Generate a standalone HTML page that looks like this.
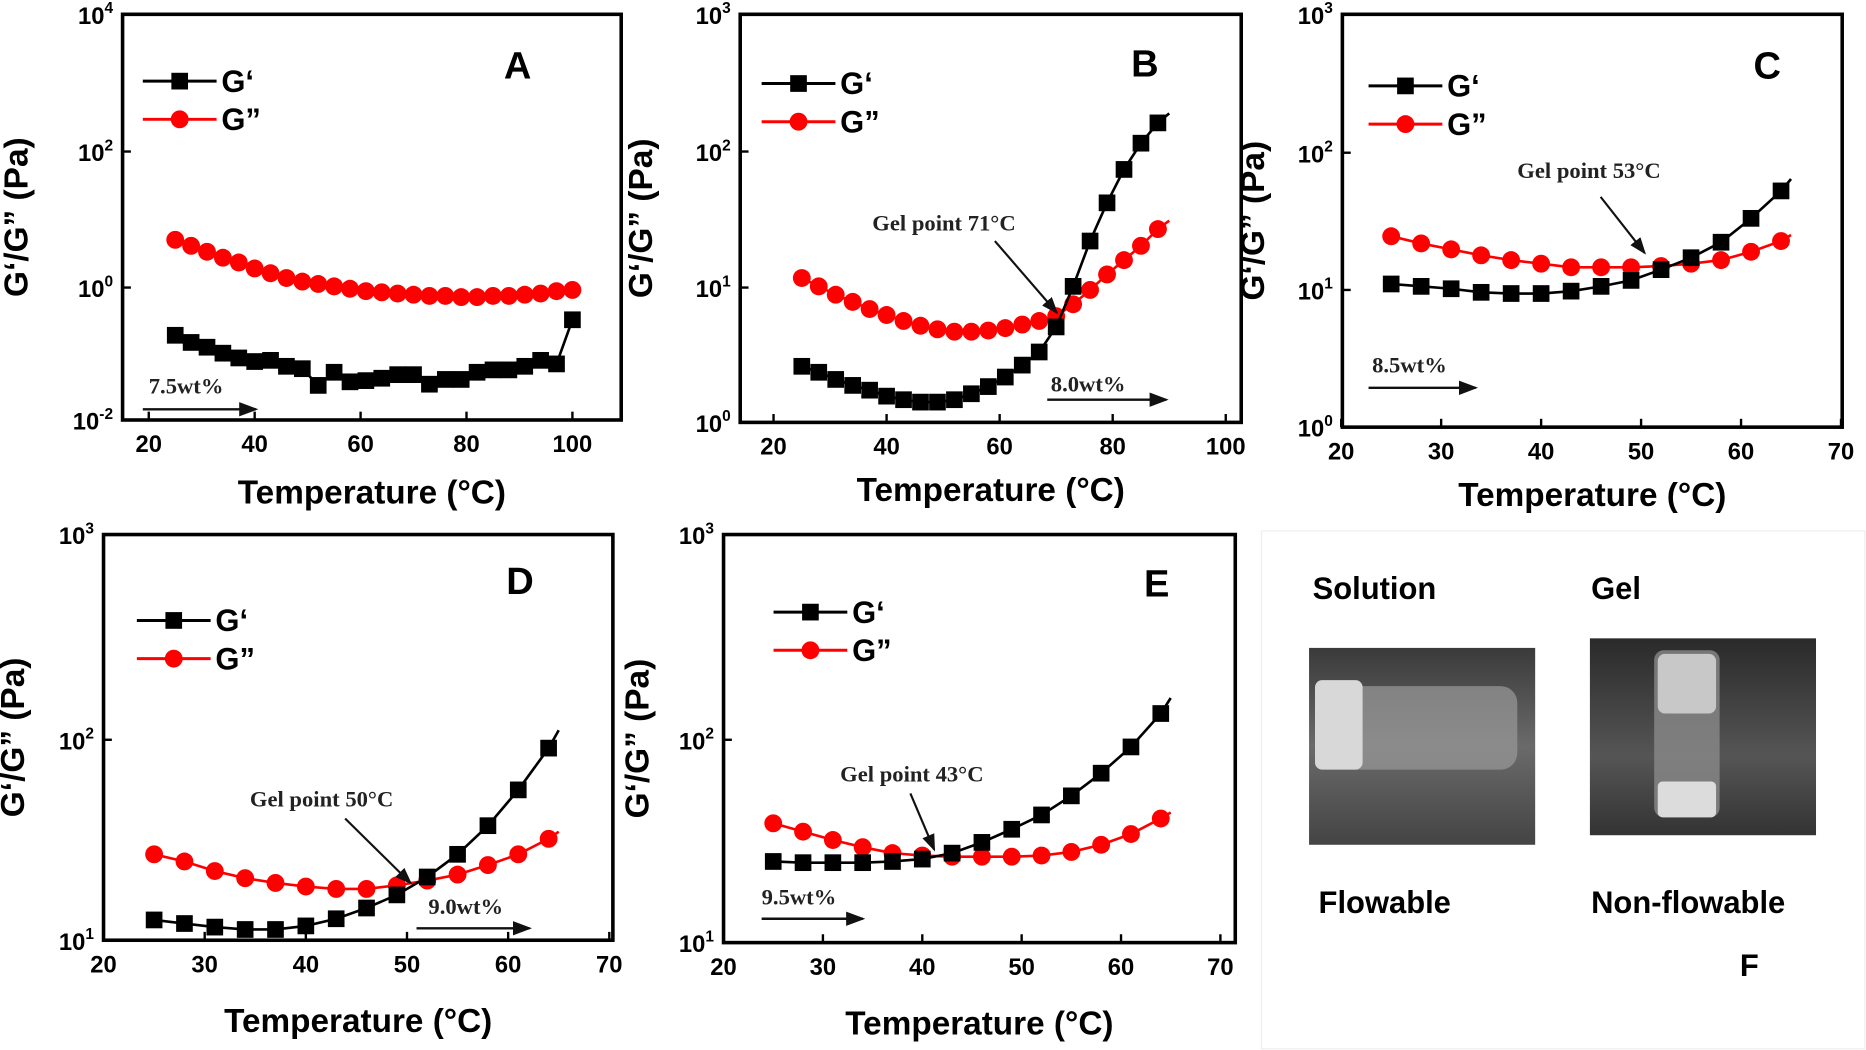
<!DOCTYPE html>
<html><head><meta charset="utf-8"><style>
html,body{margin:0;padding:0;background:#fff}
svg{display:block}
text{font-family:"Liberation Sans",Arial,sans-serif}
.t{font-size:20px;font-weight:bold}
.ti{font-size:28px;font-weight:bold}
.lb{font-size:32px;font-weight:bold}
.lg{font-size:26px;font-weight:bold}
.an{font-family:"Liberation Serif",serif;font-size:19px;font-weight:bold;fill:#222}
</style></head><body>
<svg id="s" width="1866" height="1050" viewBox="0 0 1568 880" preserveAspectRatio="none" xmlns="http://www.w3.org/2000/svg">
<defs><marker id="ar" markerWidth="8" markerHeight="8" refX="7" refY="4" orient="auto"><path d="M0,1 L8,4 L0,7z" fill="#111"/></marker></defs>
<g id="g"></g>
<rect x="1060" y="445" width="507" height="434" fill="none" stroke="#eee" stroke-width="1"/>
<text x="1103" y="502" class="lg">Solution</text>
<text x="1337" y="502" class="lg">Gel</text>
<defs>
<linearGradient id="p1" x1="0" y1="0" x2="0" y2="1"><stop offset="0" stop-color="#3a3a3a"/><stop offset="0.5" stop-color="#6a6a6a"/><stop offset="1" stop-color="#444"/></linearGradient>
<linearGradient id="p2" x1="0" y1="0" x2="0" y2="1"><stop offset="0" stop-color="#2a2a2a"/><stop offset="0.6" stop-color="#555"/><stop offset="1" stop-color="#333"/></linearGradient>
</defs>
<rect x="1100" y="543" width="190" height="165" fill="url(#p1)"/>
<rect x="1105" y="575" width="170" height="70" rx="14" fill="#9a9a9a" opacity="0.7"/>
<rect x="1105" y="570" width="40" height="75" rx="6" fill="#d8d8d8"/>
<rect x="1336" y="535" width="190" height="165" fill="url(#p2)"/>
<rect x="1390" y="545" width="55" height="140" rx="8" fill="#8a8a8a" opacity="0.8"/>
<rect x="1393" y="548" width="49" height="50" rx="6" fill="#c8c8c8"/>
<rect x="1393" y="655" width="49" height="30" rx="4" fill="#dcdcdc"/>
<text x="1108" y="765" class="lg">Flowable</text>
<text x="1337" y="765" class="lg">Non-flowable</text>
<text x="1462" y="818" class="lg">F</text>
</svg>
<script>
var NS="http://www.w3.org/2000/svg",G=document.getElementById('g');
function el(n,a,t){var e=document.createElementNS(NS,n);for(var k in a)e.setAttribute(k,a[k]);if(t!=null)e.textContent=t;G.appendChild(e);return e;}
function panel(p){
 el('rect',{x:p.L,y:p.T,width:p.R-p.L,height:p.B-p.T,fill:'none',stroke:'#000','stroke-width':3});
 function X(v){return p.x0+(v-p.xv0)*p.xs;}
 p.xt.forEach(function(v,i){var x=X(v);el('line',{x1:x,y1:p.B,x2:x,y2:p.B-7,stroke:'#000','stroke-width':2});
  el('text',{x:x,y:p.B+27,'text-anchor':'middle','class':'t'},String(v));});
 p.yt.forEach(function(o){el('line',{x1:p.L,y1:o[0],x2:p.L+7,y2:o[0],stroke:'#000','stroke-width':2});
  var t=el('text',{x:p.L-8,y:o[0]+8,'text-anchor':'end','class':'t'});
  var a=document.createElementNS(NS,'tspan');a.textContent='10';t.appendChild(a);
  var b=document.createElementNS(NS,'tspan');b.setAttribute('dy','-9');b.setAttribute('font-size','13');b.textContent=o[1];t.appendChild(b);});
 el('text',{x:(p.L+p.R)/2,y:p.B+p.to,'text-anchor':'middle','class':'ti'},'Temperature (\u00B0C)');
 el('text',{x:0,y:0,'text-anchor':'middle','class':'ti','font-size':'29',transform:'translate('+(p.L-p.yo)+','+((p.T+p.B)/2)+') rotate(-90)'},'G\u2018/G\u201D (Pa)');
 el('text',{x:p.lx,y:p.ly,'text-anchor':'middle','class':'lb'},p.lab);
 var a=p.leg;
 el('line',{x1:a[0],y1:a[1],x2:a[0]+62,y2:a[1],stroke:'#000','stroke-width':2.5});
 el('rect',{x:a[0]+24,y:a[1]-7,width:14,height:14,fill:'#000'});
 el('text',{x:a[0]+66,y:a[1]+9,'class':'lg'},'G\u2018');
 el('line',{x1:a[0],y1:a[1]+32,x2:a[0]+62,y2:a[1]+32,stroke:'#f00','stroke-width':2.5});
 el('circle',{cx:a[0]+31,cy:a[1]+32,r:7.5,fill:'#f00'});
 el('text',{x:a[0]+66,y:a[1]+41,'class':'lg'},'G\u201D');
 function ser(d,c,sq){var pts=d.map(function(q){return X(q[0])+','+q[1];}).join(' ');
  el('polyline',{points:pts,fill:'none',stroke:c,'stroke-width':2.2});
  d.forEach(function(q,i){if(p.skip&&i==d.length-1)return;var x=X(q[0]);
   if(sq)el('rect',{x:x-7,y:q[1]-7,width:14,height:14,fill:c});else el('circle',{cx:x,cy:q[1],r:7.5,fill:c});});}
 function mk(xs,ys){return xs.map(function(v,i){return [v,ys[i]];});}
 ser(mk(p.gx,p.g2),'#f00',false);
 ser(mk(p.gx,p.g1),'#000',true);
 if(p.gel){el('text',{x:p.gel[0],y:p.gel[1],'class':'an'},p.gel[2]);
  el('line',{x1:p.gel[3],y1:p.gel[4],x2:p.gel[5],y2:p.gel[6],stroke:'#111','stroke-width':1.8,'marker-end':'url(#ar)'});}
 var w=p.wt;el('text',{x:w[0],y:w[1],'class':'an'},w[2]);
 el('line',{x1:w[3],y1:w[5],x2:w[4],y2:w[5],stroke:'#111','stroke-width':2,'marker-end':'url(#ar)'});
}
function rng(a,b,s){var r=[];for(var v=a;v<=b+1e-6;v+=s)r.push(+v.toFixed(2));return r;}
var ax=rng(25,100,3);
panel({L:103,R:522,T:12,B:352,x0:125,xv0:20,xs:4.45,xt:[20,40,60,80,100],yo:80,to:70,
 yt:[[12,'4'],[127,'2'],[241,'0'],[352,'-2']],lab:'A',lx:435,ly:66,leg:[120,68],
 gx:ax,
 g2:[201,206,211,216,220,225,229,233,236,238,240,242,244,245,246,247,248,248,249,249,248,248,247,246,244,243],
 g1:[281,287,291,296,300,303,302,307,309,323,312,320,319,317,314,314,322,318,318,312,310,310,307,302,305,268],
 wt:[125,330,'7.5wt%',120,215,343]});
var bx=[25,28,31,34,37,40,43,46,49,52,55,58,61,64,67,70,73,76,79,82,85,88,90];
panel({L:622,R:1043,T:12,B:354,x0:650,xv0:20,xs:4.75,xt:[20,40,60,80,100],yo:74,to:66,
 yt:[[12,'3'],[127,'2'],[241,'1'],[354,'0']],lab:'B',lx:962,ly:64,leg:[640,70],
 gx:bx,skip:true,
 g2:[233,240,247,253,259,264,269,273,276,278,278,277,275,272,269,265,255,243,230,218,206,192,185],
 g1:[307,312,318,323,327,332,335,337,337,335,330,324,316,306,295,274,240,202,170,142,120,103,95],
 gel:[733,193,'Gel point 71\u00B0C',836,202,888,262],
 wt:[883,328,'8.0wt%',880,980,335]});
var cx=[25,28,31,34,37,40,43,46,49,52,55,58,61,64,65];
panel({L:1128,R:1548,T:12,B:358,x0:1127,xv0:20,xs:8.4,xt:[20,30,40,50,60,70],yo:66,to:66,
 yt:[[12,'3'],[128,'2'],[243,'1'],[358,'0']],lab:'C',lx:1485,ly:66,leg:[1150,72],
 gx:cx,skip:true,
 g2:[198,204,209,214,218,221,224,224,224,223,221,218,211,202,197],
 g1:[238,240,242,245,246,246,244,240,235,226,216,203,183,160,150],
 gel:[1275,149,'Gel point 53\u00B0C',1345,165,1382,212],
 wt:[1153,312,'8.5wt%',1150,1240,325]});
panel({L:87,R:515,T:448,B:788,x0:87,xv0:20,xs:8.5,xt:[20,30,40,50,60,70],yo:67,to:77,
 yt:[[448,'3'],[620,'2'],[788,'1']],lab:'D',lx:437,ly:498,leg:[115,520],
 gx:cx,skip:true,
 g2:[716,722,730,736,740,743,745,745,742,738,733,725,716,703,697],
 g1:[771,774,777,779,779,776,770,761,750,735,716,692,662,627,612],
 gel:[210,676,'Gel point 50\u00B0C',290,686,345,740],
 wt:[360,766,'9.0wt%',350,445,778]});
panel({L:608,R:1038,T:448,B:790,x0:608,xv0:20,xs:8.35,xt:[20,30,40,50,60,70],yo:63,to:77,
 yt:[[448,'3'],[620,'2'],[790,'1']],lab:'E',lx:972,ly:500,leg:[650,513],
 gx:cx,skip:true,
 g2:[690,697,704,710,715,717,718,718,718,717,714,708,699,686,681],
 g1:[722,723,723,723,722,720,715,706,695,683,667,648,626,598,585],
 gel:[706,655,'Gel point 43\u00B0C',765,665,785,712],
 wt:[640,758,'9.5wt%',640,725,770]});
</script>
</body></html>
